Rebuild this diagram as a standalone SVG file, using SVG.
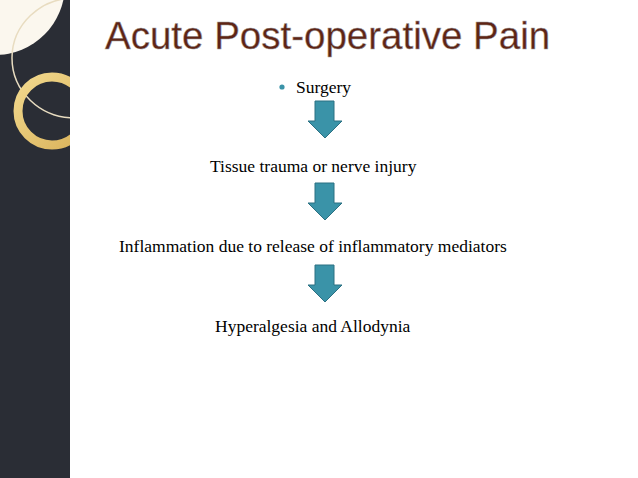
<svg xmlns="http://www.w3.org/2000/svg" width="638" height="478" viewBox="0 0 638 478">
<defs>
<clipPath id="p"><rect x="0" y="0" width="70" height="478"/></clipPath>
<linearGradient id="g" x1="0" y1="0" x2="1" y2="1"><stop offset="0" stop-color="#f2d98e"/><stop offset="1" stop-color="#d9b25a"/></linearGradient>
<path id="arr" d="M-10,0 H9 V20 H17 L0,37 L-17,20 H-10 Z"/>
<style>.t{font-family:"Liberation Serif",serif;font-size:17.5px;fill:#000}.a{fill:#3a93a8;stroke:#2b7082;stroke-width:1}</style>
</defs>
<rect width="638" height="478" fill="#fff"/>
<g id="panel" clip-path="url(#p)">
<rect width="70" height="478" fill="#2a2d35"/>
<circle cx="-5" cy="-15" r="70" fill="#fbf7ee"/>
<ellipse cx="75" cy="58" rx="63" ry="60" fill="none" stroke="#e8dcc0" stroke-width="1.5"/>
<circle cx="52" cy="111" r="34" fill="none" stroke="url(#g)" stroke-width="9"/>
</g>
<g id="title"><text x="105" y="49" font-family="Liberation Sans,Arial,sans-serif" font-size="38.5" fill="#5e2414" stroke="#a0a0a0" stroke-width="0.5">Acute Post-operative Pain</text></g>
<g id="n1"><circle cx="282" cy="87" r="2.6" fill="#3a93a8"/><text class="t" x="296" y="93">Surgery</text></g>
<g id="n2"><text class="t" x="210" y="172">Tissue trauma or nerve injury</text></g>
<g id="n3"><text class="t" x="119" y="252">Inflammation due to release of inflammatory mediators</text></g>
<g id="n4"><text class="t" x="215" y="332">Hyperalgesia and Allodynia</text></g>
<g id="connectors">
<use href="#arr" class="a" transform="translate(325,101)"/>
<use href="#arr" class="a" transform="translate(325,183)"/>
<use href="#arr" class="a" transform="translate(325,265)"/>
</g>
</svg>
